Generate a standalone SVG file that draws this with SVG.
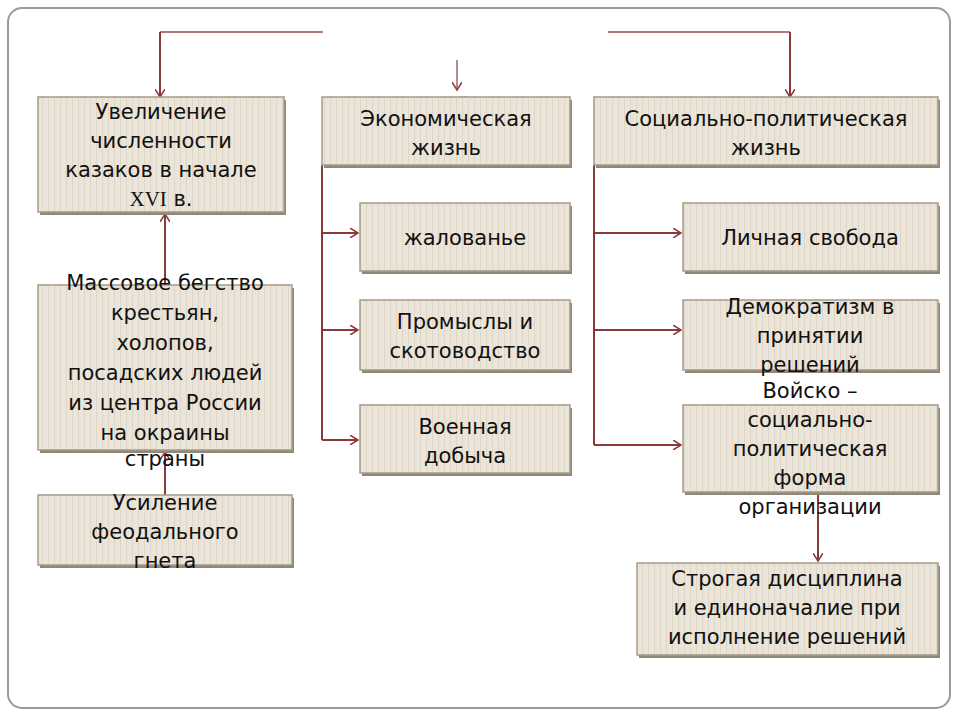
<svg xmlns="http://www.w3.org/2000/svg" width="960" height="720" viewBox="0 0 960 720">
<defs>
<pattern id="st" width="6" height="10" patternUnits="userSpaceOnUse"><rect width="6" height="10" fill="#ebe4d8"/><rect x="0" width="1" height="10" fill="#ded6c8"/></pattern>
<marker id="ah" markerWidth="10" markerHeight="10" refX="8" refY="5" orient="auto" markerUnits="userSpaceOnUse"><path d="M0,0 L8,5 L0,10" fill="none" stroke="#8b3a3a" stroke-width="1.5"/></marker>
</defs>
<style>
.b{fill:url(#st);stroke:#a59a88;stroke-width:1.5}
.sh{fill:#8f8778}
.t{font-family:"DejaVu Sans",sans-serif;font-size:21px;fill:#111;text-anchor:middle}
.c{fill:none;stroke:#8b3a3a;stroke-width:2}
.c2{fill:none;stroke:#b07a7a;stroke-width:2}
</style>
<rect width="960" height="720" fill="#fff"/>
<rect x="8" y="8" width="942" height="700" rx="14" fill="#fff" stroke="#9a9a9a" stroke-width="2"/>
<text x="490" y="104" font-family="DejaVu Sans,sans-serif" font-size="10" fill="#8b3a3a" text-anchor="middle">Казачество</text>
<g id="connectors">
<path class="c2" d="M323,32 H160"/><path class="c" d="M160,32 V97" marker-end="url(#ah)"/>
<path class="c2" d="M608,32 H790"/><path class="c" d="M790,32 V97" marker-end="url(#ah)"/>
<path d="M457,60 V90" stroke="#8b3a3a" stroke-width="1.2" fill="none" marker-end="url(#ah)"/>
<path class="c" d="M165,285 V214" marker-end="url(#ah)"/>
<path class="c" d="M165,495 V452" marker-end="url(#ah)"/>
<path class="c" d="M322,165 V440"/>
<path class="c" d="M322,233 H358" marker-end="url(#ah)"/>
<path class="c" d="M322,330 H358" marker-end="url(#ah)"/>
<path class="c" d="M322,440 H358" marker-end="url(#ah)"/>
<path class="c" d="M594,165 V445"/>
<path class="c" d="M594,233 H681" marker-end="url(#ah)"/>
<path class="c" d="M594,330 H681" marker-end="url(#ah)"/>
<path class="c" d="M594,445 H681" marker-end="url(#ah)"/>
<path class="c" d="M818,492 V561" marker-end="url(#ah)"/>
</g>
<g id="n1"><rect class="sh" x="40" y="100" width="246" height="115"/><rect class="b" x="38" y="97" width="246" height="115"/>
<text class="t"><tspan x="161" y="119">Увеличение</tspan><tspan x="161" y="148">численности</tspan><tspan x="161" y="177">казаков в начале</tspan><tspan x="161" y="206"><tspan font-family="Liberation Serif,serif">XVI</tspan> в.</tspan></text></g>
<g id="n2"><rect class="sh" x="324" y="100" width="248" height="68"/><rect class="b" x="322" y="97" width="248" height="68"/>
<text class="t"><tspan x="446" y="126">Экономическая</tspan><tspan x="446" y="155">жизнь</tspan></text></g>
<g id="n3"><rect class="sh" x="596" y="100" width="344" height="68"/><rect class="b" x="594" y="97" width="344" height="68"/>
<text class="t"><tspan x="766" y="126">Социально-политическая</tspan><tspan x="766" y="155">жизнь</tspan></text></g>
<g id="n4"><rect class="sh" x="40" y="288" width="254" height="165"/><rect class="b" x="38" y="285" width="254" height="165"/>
<text class="t"><tspan x="165" y="290">Массовое бегство</tspan><tspan x="165" y="320">крестьян,</tspan><tspan x="165" y="350">холопов,</tspan><tspan x="165" y="380">посадских людей</tspan><tspan x="165" y="410">из центра России</tspan><tspan x="165" y="440">на окраины</tspan><tspan x="165" y="466">страны</tspan></text></g>
<g id="n5"><rect class="sh" x="40" y="498" width="254" height="70"/><rect class="b" x="38" y="495" width="254" height="70"/>
<text class="t"><tspan x="165" y="510">Усиление</tspan><tspan x="165" y="539">феодального</tspan><tspan x="165" y="568">гнета</tspan></text></g>
<g id="n6"><rect class="sh" x="362" y="206" width="210" height="68"/><rect class="b" x="360" y="203" width="210" height="68"/>
<text class="t" x="465" y="245">жалованье</text></g>
<g id="n7"><rect class="sh" x="362" y="303" width="210" height="70"/><rect class="b" x="360" y="300" width="210" height="70"/>
<text class="t"><tspan x="465" y="329">Промыслы и</tspan><tspan x="465" y="358">скотоводство</tspan></text></g>
<g id="n8"><rect class="sh" x="362" y="408" width="210" height="68"/><rect class="b" x="360" y="405" width="210" height="68"/>
<text class="t"><tspan x="465" y="434">Военная</tspan><tspan x="465" y="463">добыча</tspan></text></g>
<g id="n9"><rect class="sh" x="685" y="206" width="255" height="68"/><rect class="b" x="683" y="203" width="255" height="68"/>
<text class="t" x="810" y="245">Личная свобода</text></g>
<g id="n10"><rect class="sh" x="685" y="303" width="255" height="70"/><rect class="b" x="683" y="300" width="255" height="70"/>
<text class="t"><tspan x="810" y="314">Демократизм в</tspan><tspan x="810" y="343">принятии</tspan><tspan x="810" y="372">решений</tspan></text></g>
<g id="n11"><rect class="sh" x="685" y="408" width="255" height="87"/><rect class="b" x="683" y="405" width="255" height="87"/>
<text class="t"><tspan x="810" y="398">Войско –</tspan><tspan x="810" y="427">социально-</tspan><tspan x="810" y="456">политическая</tspan><tspan x="810" y="485">форма</tspan><tspan x="810" y="514">организации</tspan></text></g>
<g id="n12"><rect class="sh" x="639" y="566" width="301" height="92"/><rect class="b" x="637" y="563" width="301" height="92"/>
<text class="t"><tspan x="787" y="586">Строгая  дисциплина</tspan><tspan x="787" y="615">и единоначалие при</tspan><tspan x="787" y="644">исполнение решений</tspan></text></g>
</svg>
